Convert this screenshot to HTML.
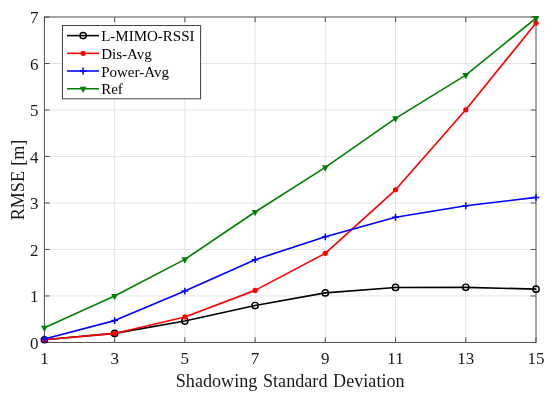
<!DOCTYPE html>
<html><head><meta charset="utf-8"><title>RMSE vs Shadowing Standard Deviation</title>
<style>html,body{margin:0;padding:0;background:#fff}svg{display:block}</style></head>
<body>
<svg width="550" height="398" viewBox="0 0 550 398" font-family="'Liberation Serif', serif" fill="#1a1a1a">
<rect width="550" height="398" fill="#fff"/>
<line x1="114.63" y1="17.0" x2="114.63" y2="342.45" stroke="#e4e4e4" stroke-width="1"/>
<line x1="184.86" y1="17.0" x2="184.86" y2="342.45" stroke="#e4e4e4" stroke-width="1"/>
<line x1="255.09" y1="17.0" x2="255.09" y2="342.45" stroke="#e4e4e4" stroke-width="1"/>
<line x1="325.31" y1="17.0" x2="325.31" y2="342.45" stroke="#e4e4e4" stroke-width="1"/>
<line x1="395.54" y1="17.0" x2="395.54" y2="342.45" stroke="#e4e4e4" stroke-width="1"/>
<line x1="465.77" y1="17.0" x2="465.77" y2="342.45" stroke="#e4e4e4" stroke-width="1"/>
<line x1="44.4" y1="295.96" x2="536.0" y2="295.96" stroke="#e4e4e4" stroke-width="1"/>
<line x1="44.4" y1="249.46" x2="536.0" y2="249.46" stroke="#e4e4e4" stroke-width="1"/>
<line x1="44.4" y1="202.97" x2="536.0" y2="202.97" stroke="#e4e4e4" stroke-width="1"/>
<line x1="44.4" y1="156.48" x2="536.0" y2="156.48" stroke="#e4e4e4" stroke-width="1"/>
<line x1="44.4" y1="109.99" x2="536.0" y2="109.99" stroke="#e4e4e4" stroke-width="1"/>
<line x1="44.4" y1="63.49" x2="536.0" y2="63.49" stroke="#e4e4e4" stroke-width="1"/>
<line x1="44.40" y1="342.45" x2="44.40" y2="337.25" stroke="#505050" stroke-width="1"/>
<line x1="44.40" y1="17.0" x2="44.40" y2="22.2" stroke="#505050" stroke-width="1"/>
<line x1="114.63" y1="342.45" x2="114.63" y2="337.25" stroke="#505050" stroke-width="1"/>
<line x1="114.63" y1="17.0" x2="114.63" y2="22.2" stroke="#505050" stroke-width="1"/>
<line x1="184.86" y1="342.45" x2="184.86" y2="337.25" stroke="#505050" stroke-width="1"/>
<line x1="184.86" y1="17.0" x2="184.86" y2="22.2" stroke="#505050" stroke-width="1"/>
<line x1="255.09" y1="342.45" x2="255.09" y2="337.25" stroke="#505050" stroke-width="1"/>
<line x1="255.09" y1="17.0" x2="255.09" y2="22.2" stroke="#505050" stroke-width="1"/>
<line x1="325.31" y1="342.45" x2="325.31" y2="337.25" stroke="#505050" stroke-width="1"/>
<line x1="325.31" y1="17.0" x2="325.31" y2="22.2" stroke="#505050" stroke-width="1"/>
<line x1="395.54" y1="342.45" x2="395.54" y2="337.25" stroke="#505050" stroke-width="1"/>
<line x1="395.54" y1="17.0" x2="395.54" y2="22.2" stroke="#505050" stroke-width="1"/>
<line x1="465.77" y1="342.45" x2="465.77" y2="337.25" stroke="#505050" stroke-width="1"/>
<line x1="465.77" y1="17.0" x2="465.77" y2="22.2" stroke="#505050" stroke-width="1"/>
<line x1="536.00" y1="342.45" x2="536.00" y2="337.25" stroke="#505050" stroke-width="1"/>
<line x1="536.00" y1="17.0" x2="536.00" y2="22.2" stroke="#505050" stroke-width="1"/>
<line x1="44.4" y1="342.45" x2="49.6" y2="342.45" stroke="#505050" stroke-width="1"/>
<line x1="536.0" y1="342.45" x2="530.8" y2="342.45" stroke="#505050" stroke-width="1"/>
<line x1="44.4" y1="295.96" x2="49.6" y2="295.96" stroke="#505050" stroke-width="1"/>
<line x1="536.0" y1="295.96" x2="530.8" y2="295.96" stroke="#505050" stroke-width="1"/>
<line x1="44.4" y1="249.46" x2="49.6" y2="249.46" stroke="#505050" stroke-width="1"/>
<line x1="536.0" y1="249.46" x2="530.8" y2="249.46" stroke="#505050" stroke-width="1"/>
<line x1="44.4" y1="202.97" x2="49.6" y2="202.97" stroke="#505050" stroke-width="1"/>
<line x1="536.0" y1="202.97" x2="530.8" y2="202.97" stroke="#505050" stroke-width="1"/>
<line x1="44.4" y1="156.48" x2="49.6" y2="156.48" stroke="#505050" stroke-width="1"/>
<line x1="536.0" y1="156.48" x2="530.8" y2="156.48" stroke="#505050" stroke-width="1"/>
<line x1="44.4" y1="109.99" x2="49.6" y2="109.99" stroke="#505050" stroke-width="1"/>
<line x1="536.0" y1="109.99" x2="530.8" y2="109.99" stroke="#505050" stroke-width="1"/>
<line x1="44.4" y1="63.49" x2="49.6" y2="63.49" stroke="#505050" stroke-width="1"/>
<line x1="536.0" y1="63.49" x2="530.8" y2="63.49" stroke="#505050" stroke-width="1"/>
<line x1="44.4" y1="17.00" x2="49.6" y2="17.00" stroke="#505050" stroke-width="1"/>
<line x1="536.0" y1="17.00" x2="530.8" y2="17.00" stroke="#505050" stroke-width="1"/>
<rect x="44.4" y="17.0" width="491.6" height="325.45" fill="none" stroke="#505050" stroke-width="1"/>
<g>
<polyline points="44.40,339.75 114.63,333.43 184.86,321.06 255.09,305.53 325.31,292.89 395.54,287.45 465.77,287.31 536.00,289.17" fill="none" stroke="#000" stroke-width="1.65" stroke-linejoin="round"/>
<circle cx="44.40" cy="339.75" r="3.15" fill="none" stroke="#000" stroke-width="1.4"/>
<circle cx="114.63" cy="333.43" r="3.15" fill="none" stroke="#000" stroke-width="1.4"/>
<circle cx="184.86" cy="321.06" r="3.15" fill="none" stroke="#000" stroke-width="1.4"/>
<circle cx="255.09" cy="305.53" r="3.15" fill="none" stroke="#000" stroke-width="1.4"/>
<circle cx="325.31" cy="292.89" r="3.15" fill="none" stroke="#000" stroke-width="1.4"/>
<circle cx="395.54" cy="287.45" r="3.15" fill="none" stroke="#000" stroke-width="1.4"/>
<circle cx="465.77" cy="287.31" r="3.15" fill="none" stroke="#000" stroke-width="1.4"/>
<circle cx="536.00" cy="289.17" r="3.15" fill="none" stroke="#000" stroke-width="1.4"/>
<polyline points="44.40,339.75 114.63,333.43 184.86,316.97 255.09,290.38 325.31,253.37 395.54,189.77 465.77,109.80 536.00,22.95" fill="none" stroke="#f00" stroke-width="1.65" stroke-linejoin="round"/>
<circle cx="44.40" cy="339.75" r="2.6" fill="#f00"/>
<circle cx="114.63" cy="333.43" r="2.6" fill="#f00"/>
<circle cx="184.86" cy="316.97" r="2.6" fill="#f00"/>
<circle cx="255.09" cy="290.38" r="2.6" fill="#f00"/>
<circle cx="325.31" cy="253.37" r="2.6" fill="#f00"/>
<circle cx="395.54" cy="189.77" r="2.6" fill="#f00"/>
<circle cx="465.77" cy="109.80" r="2.6" fill="#f00"/>
<circle cx="536.00" cy="22.95" r="2.6" fill="#f00"/>
<polyline points="44.40,339.01 114.63,320.60 184.86,291.08 255.09,259.69 325.31,236.82 395.54,217.24 465.77,205.76 536.00,197.39" fill="none" stroke="#00f" stroke-width="1.65" stroke-linejoin="round"/>
<path d="M41.00 339.01H47.80M44.40 335.61V342.41" stroke="#00f" stroke-width="1.5" fill="none"/>
<path d="M111.23 320.60H118.03M114.63 317.20V324.00" stroke="#00f" stroke-width="1.5" fill="none"/>
<path d="M181.46 291.08H188.26M184.86 287.68V294.48" stroke="#00f" stroke-width="1.5" fill="none"/>
<path d="M251.69 259.69H258.49M255.09 256.29V263.09" stroke="#00f" stroke-width="1.5" fill="none"/>
<path d="M321.91 236.82H328.71M325.31 233.42V240.22" stroke="#00f" stroke-width="1.5" fill="none"/>
<path d="M392.14 217.24H398.94M395.54 213.84V220.64" stroke="#00f" stroke-width="1.5" fill="none"/>
<path d="M462.37 205.76H469.17M465.77 202.36V209.16" stroke="#00f" stroke-width="1.5" fill="none"/>
<path d="M532.60 197.39H539.40M536.00 193.99V200.79" stroke="#00f" stroke-width="1.5" fill="none"/>
<polyline points="44.40,327.76 114.63,296.05 184.86,259.37 255.09,211.99 325.31,167.40 395.54,118.35 465.77,75.12 536.00,18.16" fill="none" stroke="#008000" stroke-width="1.65" stroke-linejoin="round"/>
<path d="M41.00 325.66H47.80L44.40 332.06Z" fill="#008000"/>
<path d="M111.23 293.95H118.03L114.63 300.35Z" fill="#008000"/>
<path d="M181.46 257.27H188.26L184.86 263.67Z" fill="#008000"/>
<path d="M251.69 209.89H258.49L255.09 216.29Z" fill="#008000"/>
<path d="M321.91 165.30H328.71L325.31 171.70Z" fill="#008000"/>
<path d="M392.14 116.25H398.94L395.54 122.65Z" fill="#008000"/>
<path d="M462.37 73.02H469.17L465.77 79.42Z" fill="#008000"/>
<path d="M532.60 16.06H539.40L536.00 22.46Z" fill="#008000"/>
</g>
<text x="44.40" y="364.3" font-size="17" text-anchor="middle">1</text>
<text x="114.63" y="364.3" font-size="17" text-anchor="middle">3</text>
<text x="184.86" y="364.3" font-size="17" text-anchor="middle">5</text>
<text x="255.09" y="364.3" font-size="17" text-anchor="middle">7</text>
<text x="325.31" y="364.3" font-size="17" text-anchor="middle">9</text>
<text x="395.54" y="364.3" font-size="17" text-anchor="middle">11</text>
<text x="465.77" y="364.3" font-size="17" text-anchor="middle">13</text>
<text x="536.00" y="364.3" font-size="17" text-anchor="middle">15</text>
<text x="38.4" y="348.55" font-size="17" text-anchor="end">0</text>
<text x="38.4" y="302.06" font-size="17" text-anchor="end">1</text>
<text x="38.4" y="255.56" font-size="17" text-anchor="end">2</text>
<text x="38.4" y="209.07" font-size="17" text-anchor="end">3</text>
<text x="38.4" y="162.58" font-size="17" text-anchor="end">4</text>
<text x="38.4" y="116.09" font-size="17" text-anchor="end">5</text>
<text x="38.4" y="69.59" font-size="17" text-anchor="end">6</text>
<text x="38.4" y="23.10" font-size="17" text-anchor="end">7</text>
<text x="290.2" y="386.8" font-size="18.15" word-spacing="1.1" text-anchor="middle">Shadowing Standard Deviation</text>
<text transform="translate(23.8 180.0) rotate(-90)" font-size="18.15" word-spacing="0.6" text-anchor="middle">RMSE [m]</text>
<rect x="62.45" y="25.55" width="138.15" height="73.25" fill="#fff" stroke="#404040" stroke-width="1"/>
<line x1="67" y1="35.6" x2="99" y2="35.6" stroke="#000" stroke-width="1.55"/>
<circle cx="83.10" cy="35.60" r="3.15" fill="none" stroke="#000" stroke-width="1.4"/>
<text x="101.2" y="41.20" font-size="15.0" fill="#000">L-MIMO-RSSI</text>
<line x1="67" y1="53.35" x2="99" y2="53.35" stroke="#f00" stroke-width="1.55"/>
<circle cx="83.10" cy="53.35" r="2.6" fill="#f00"/>
<text x="101.2" y="58.95" font-size="15.0" fill="#000">Dis-Avg</text>
<line x1="67" y1="71.0" x2="99" y2="71.0" stroke="#00f" stroke-width="1.55"/>
<path d="M79.70 71.00H86.50M83.10 67.60V74.40" stroke="#00f" stroke-width="1.5" fill="none"/>
<text x="101.2" y="76.60" font-size="15.0" fill="#000">Power-Avg</text>
<line x1="67" y1="88.75" x2="99" y2="88.75" stroke="#008000" stroke-width="1.55"/>
<path d="M79.70 86.65H86.50L83.10 93.05Z" fill="#008000"/>
<text x="101.2" y="94.35" font-size="15.0" fill="#000">Ref</text>
</svg>
</body></html>
